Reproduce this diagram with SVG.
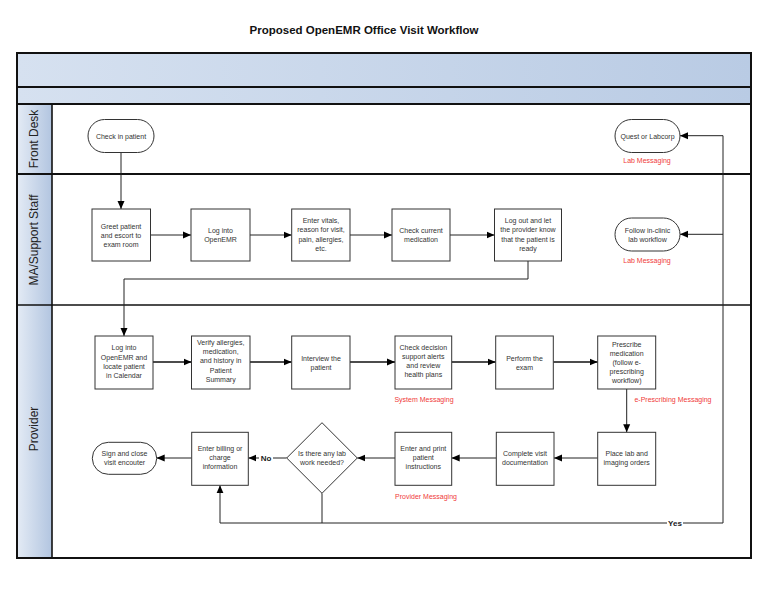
<svg xmlns="http://www.w3.org/2000/svg" width="768" height="594" viewBox="0 0 768 594">
<defs>
<linearGradient id="hdr" x1="0" y1="0" x2="1" y2="0">
<stop offset="0" stop-color="#d6e1f0"/><stop offset="1" stop-color="#b9cbe4"/>
</linearGradient>
<linearGradient id="lane" x1="0" y1="0" x2="1" y2="0">
<stop offset="0" stop-color="#e4ebf5"/><stop offset="1" stop-color="#b2c5e0"/>
</linearGradient>
<marker id="ah" markerUnits="userSpaceOnUse" markerWidth="8" markerHeight="8" viewBox="0 0 8 8" refX="8" refY="4" orient="auto">
<path d="M0,0.5 L8,4 L0,7.5 Z" fill="#000"/>
</marker>
</defs>
<style>
.box{fill:#fff;stroke:#333;stroke-width:1}
.t{font-family:"Liberation Sans",Arial,sans-serif;font-size:7px;fill:#333;text-anchor:middle}
.red{font-family:"Liberation Sans",Arial,sans-serif;font-size:7px;fill:#f03a3a;text-anchor:middle}
.lbl{font-family:"Liberation Sans",Arial,sans-serif;font-size:12px;fill:#222;text-anchor:middle}
.c{fill:none;stroke:#222;stroke-width:1}
.ca{fill:none;stroke:#222;stroke-width:1;marker-end:url(#ah)}
.cb{fill:none;stroke:#111;stroke-width:1.6;marker-end:url(#ah)}
.yn{font-family:"Liberation Sans",Arial,sans-serif;font-size:8px;font-weight:bold;fill:#222;text-anchor:middle}
</style>
<rect width="768" height="594" fill="#fff"/>
<text x="364" y="34" font-family="Liberation Sans, Arial, sans-serif" font-size="11.5" font-weight="bold" fill="#111" text-anchor="middle">Proposed OpenEMR Office Visit Workflow</text>

<g id="pool">
<rect x="17" y="53" width="734" height="34" fill="url(#hdr)"/>
<rect x="17" y="87" width="734" height="17" fill="url(#hdr)"/>
<rect x="17" y="104" width="35" height="70" fill="url(#lane)"/>
<rect x="17" y="174" width="35" height="131" fill="url(#lane)"/>
<rect x="17" y="305" width="35" height="253" fill="url(#lane)"/>
<rect x="17" y="53" width="734" height="505" fill="none" stroke="#111" stroke-width="2"/>
<line x1="17" y1="87" x2="751" y2="87" stroke="#111" stroke-width="2"/>
<line x1="17" y1="104" x2="751" y2="104" stroke="#111" stroke-width="2"/>
<line x1="17" y1="174" x2="751" y2="174" stroke="#111" stroke-width="2.2"/>
<line x1="17" y1="305" x2="751" y2="305" stroke="#111" stroke-width="1.6"/>
<line x1="52" y1="104" x2="52" y2="558" stroke="#111" stroke-width="1.6"/>
<text class="lbl" transform="translate(38,139) rotate(-90)">Front Desk</text>
<text class="lbl" transform="translate(38,240) rotate(-90)">MA/Support Staff</text>
<text class="lbl" transform="translate(38,429) rotate(-90)">Provider</text>
</g>

<g id="connectors">
<path class="ca" d="M121,152.7 V209"/>
<path class="ca" d="M150.5,235 H191"/>
<path class="ca" d="M250,235 H291.7"/>
<path class="ca" d="M350,235 H392"/>
<path class="ca" d="M450,235 H494.5"/>
<path class="ca" d="M528,261 V279 H124 V336"/>
<path class="cb" d="M153,362 H191.5"/>
<path class="cb" d="M250,362 H291.7"/>
<path class="cb" d="M350,362 H395"/>
<path class="cb" d="M451.7,362 H495.7"/>
<path class="cb" d="M553.3,362 H597.7"/>
<path class="ca" d="M626.7,389 V432.3"/>
<path class="ca" d="M597.7,458 H554"/>
<path class="ca" d="M496.3,458 H451.7"/>
<path class="ca" d="M395,458 H357.3"/>
<path class="ca" d="M286.7,458 H248.3"/>
<path class="ca" d="M191.7,458 H156.7"/>
<path class="c" d="M322,493.3 V523"/>
<path class="ca" d="M220,523 V485.3"/>
<path class="c" d="M220,523 H723 V135.7"/>
<path class="ca" d="M723,135.7 H680"/>
<path class="ca" d="M723,234.3 H680"/>
<rect x="259" y="453" width="14" height="10" fill="#fff"/>
<text class="yn" x="266" y="461">No</text>
<rect x="667" y="518" width="16" height="10" fill="#fff"/>
<text class="yn" x="675" y="526">Yes</text>
</g>

<g id="checkin"><rect class="box" x="88" y="119.5" width="66" height="33" rx="16.5"/><text class="t" x="121" y="138.5">Check in patient</text></g>
<g id="quest"><rect class="box" x="615" y="119.5" width="65" height="33" rx="16.5"/><text class="t" x="647.5" y="138.5">Quest or Labcorp</text><text class="red" x="647" y="163">Lab Messaging</text></g>

<g id="greet"><rect class="box" x="92" y="209" width="58.5" height="52"/><text class="t" x="121" y="229">Greet patient</text><text class="t" x="121" y="238">and escort to</text><text class="t" x="121" y="247">exam room</text></g>
<g id="login1"><rect class="box" x="191" y="209" width="59" height="52"/><text class="t" x="220.5" y="232.5">Log into</text><text class="t" x="220.5" y="241.5">OpenEMR</text></g>
<g id="vitals"><rect class="box" x="291.7" y="209" width="58.3" height="52"/><text class="t" x="321" y="223">Enter vitals,</text><text class="t" x="321" y="232">reason for visit,</text><text class="t" x="321" y="241.5">pain, allergies,</text><text class="t" x="321" y="250.5">etc.</text></g>
<g id="checkmed"><rect class="box" x="392" y="209" width="58" height="52"/><text class="t" x="421" y="232.5">Check current</text><text class="t" x="421" y="241.5">medication</text></g>
<g id="logout"><rect class="box" x="494.5" y="209" width="67" height="52"/><text class="t" x="528" y="222.5">Log out and let</text><text class="t" x="528" y="232">the provider know</text><text class="t" x="528" y="241.5">that the patient is</text><text class="t" x="528" y="251">ready</text></g>
<g id="followlab"><rect class="box" x="615" y="218" width="65" height="33" rx="16.5"/><text class="t" x="647.5" y="233">Follow in-clinic</text><text class="t" x="647.5" y="242">lab workflow</text><text class="red" x="647" y="263">Lab Messaging</text></g>

<g id="login2"><rect class="box" x="95" y="336" width="58" height="53"/><text class="t" x="124" y="350">Log into</text><text class="t" x="124" y="359.5">OpenEMR and</text><text class="t" x="124" y="368.5">locate patient</text><text class="t" x="124" y="378">in Calendar</text></g>
<g id="verify"><rect class="box" x="191.5" y="336" width="58.5" height="53"/><text class="t" x="220.7" y="345">Verify allergies,</text><text class="t" x="220.7" y="354">medication,</text><text class="t" x="220.7" y="363">and history in</text><text class="t" x="220.7" y="372.5">Patient</text><text class="t" x="220.7" y="382">Summary</text></g>
<g id="interview"><rect class="box" x="291.7" y="336" width="58.3" height="53"/><text class="t" x="321" y="360.5">Interview the</text><text class="t" x="321" y="369.5">patient</text></g>
<g id="decision"><rect class="box" x="395" y="336" width="56.7" height="53"/><text class="t" x="423.3" y="350">Check decision</text><text class="t" x="423.3" y="359">support alerts</text><text class="t" x="423.3" y="368">and review</text><text class="t" x="423.3" y="377">health plans</text><text class="red" x="424" y="401.5">System Messaging</text></g>
<g id="exam"><rect class="box" x="495.7" y="336" width="57.6" height="53"/><text class="t" x="524.5" y="360.5">Perform the</text><text class="t" x="524.5" y="369.5">exam</text></g>
<g id="prescribe"><rect class="box" x="597.7" y="336" width="58" height="53"/><text class="t" x="626.7" y="346.5">Prescribe</text><text class="t" x="626.7" y="355.5">medication</text><text class="t" x="626.7" y="364.5">(follow e-</text><text class="t" x="626.7" y="373.5">prescribing</text><text class="t" x="626.7" y="383">workflow)</text><text class="red" x="673" y="401.5">e-Prescribing Messaging</text></g>

<g id="placelab"><rect class="box" x="597.7" y="432.3" width="58" height="53"/><text class="t" x="626.7" y="455.5">Place lab and</text><text class="t" x="626.7" y="464.5">imaging orders</text></g>
<g id="complete"><rect class="box" x="496.3" y="432.3" width="57.7" height="53"/><text class="t" x="525" y="455.5">Complete visit</text><text class="t" x="525" y="464.5">documentation</text></g>
<g id="printinst"><rect class="box" x="395" y="432.3" width="56.7" height="53"/><text class="t" x="423.3" y="451">Enter and print</text><text class="t" x="423.3" y="460">patient</text><text class="t" x="423.3" y="469">instructions</text><text class="red" x="426" y="499">Provider Messaging</text></g>
<g id="labq"><polygon class="box" points="322,422.7 357.3,458 322,493.3 286.7,458"/><text class="t" x="322" y="456">Is there any lab</text><text class="t" x="322" y="465">work needed?</text></g>
<g id="billing"><rect class="box" x="191.7" y="432.3" width="56.6" height="53"/><text class="t" x="220" y="451">Enter billing or</text><text class="t" x="220" y="460">charge</text><text class="t" x="220" y="469">information</text></g>
<g id="signclose"><rect class="box" x="92.3" y="442.3" width="64.4" height="32" rx="16"/><text class="t" x="124.5" y="456">Sign and close</text><text class="t" x="124.5" y="465">visit encouter</text></g>
</svg>
